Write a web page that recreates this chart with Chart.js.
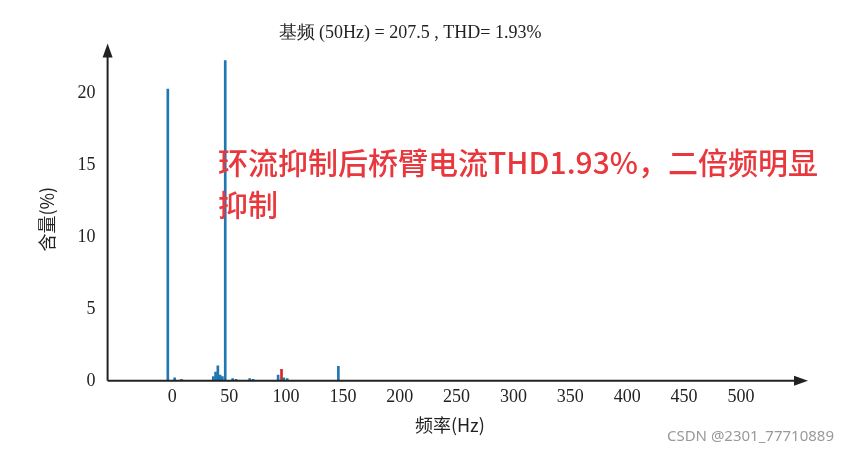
<!DOCTYPE html>
<html>
<head>
<meta charset="utf-8">
<script src="https://cdn.jsdelivr.net/npm/chart.js@4.4.0/dist/chart.umd.min.js"></script>
<style>
  body { margin: 0; background: #fff; }
  #wrap { position: relative; width: 842px; height: 451px; }
  .note { position: absolute; left: 218px; top: 140px; color: #e8383d; font: 500 30px "Noto Sans CJK SC", sans-serif; line-height: 42px; }
  .mark { position: absolute; right: 8px; bottom: 6px; color: #999; font: 15px "Noto Sans", sans-serif; }
</style>
</head>
<body>
<div id="wrap">
  <canvas id="c" width="842" height="451"></canvas>
  <div class="note">环流抑制后桥臂电流THD1.93%，二倍频明显<br>抑制</div>
  <div class="mark">CSDN @2301_77710889</div>
</div>
<script>
// harmonic frequency (Hz) and content (%)
const freqs = [-4, 2, 8, 36, 38, 40, 42, 44, 46.5, 53, 56, 68, 71, 93, 96, 98, 101, 146];
const values = [20.3, 0.2, 0.1, 0.3, 0.6, 1.05, 0.4, 0.3, 22.3, 0.15, 0.1, 0.15, 0.1, 0.4, 0.8, 0.2, 0.15, 1.0];
const xTicks = [0, 50, 100, 150, 200, 250, 300, 350, 400, 450, 500];
const yTicks = [0, 5, 10, 15, 20];

const colors = freqs.map(f => f === 96 ? '#d62728' : '#1f77b4');

const arrowAxes = {
    id: 'arrowAxes',
    afterDraw(chart) {
        const { ctx, chartArea: a } = chart;
        ctx.save();
        ctx.strokeStyle = '#222';
        ctx.fillStyle = '#222';
        ctx.lineWidth = 2;
        ctx.beginPath();
        ctx.moveTo(a.left, a.bottom);
        ctx.lineTo(a.right + 8, a.bottom);
        ctx.moveTo(a.left, a.bottom);
        ctx.lineTo(a.left, a.top - 6);
        ctx.stroke();
        ctx.beginPath();
        ctx.moveTo(a.right + 16, a.bottom);
        ctx.lineTo(a.right + 2, a.bottom - 5);
        ctx.lineTo(a.right + 2, a.bottom + 5);
        ctx.fill();
        ctx.beginPath();
        ctx.moveTo(a.left, a.top - 14);
        ctx.lineTo(a.left - 5, a.top);
        ctx.lineTo(a.left + 5, a.top);
        ctx.fill();
        ctx.restore();
    }
};

new Chart(document.getElementById('c').getContext('2d'), {
    type: 'bar',
    data: {
        datasets: [{
            data: freqs.map((f, i) => ({ x: f, y: values[i] })),
            backgroundColor: colors,
            barThickness: 2,
        }],
    },
    options: {
        responsive: false,
        animation: false,
        layout: { padding: { left: 28, right: 50, top: 2, bottom: 15 } },
        scales: {
            x: {
                type: 'linear',
                min: -29.6,
                max: 517.6,
                grid: { display: false, drawTicks: false },
                border: { display: false },
                afterBuildTicks: s => { s.ticks = xTicks.map(v => ({ value: v })); },
                ticks: { color: '#222', font: { family: 'Liberation Serif', size: 18 }, padding: 6 },
                title: { display: true, text: '频率(Hz)', color: '#222', font: { family: 'Noto Sans CJK SC', size: 18 }, padding: 0 },
            },
            y: {
                min: 0,
                max: 22.5,
                grid: { display: false, drawTicks: false },
                border: { display: false },
                afterBuildTicks: s => { s.ticks = yTicks.map(v => ({ value: v })); },
                ticks: { color: '#222', font: { family: 'Liberation Serif', size: 18 }, padding: 12 },
                title: { display: true, text: '含量(%)', color: '#222', font: { family: 'Noto Sans CJK SC', size: 18 }, padding: 8 },
            },
        },
        plugins: {
            legend: { display: false },
            tooltip: { enabled: false },
            title: {
                display: true,
                text: '基频 (50Hz) = 207.5 , THD= 1.93%',
                color: '#222',
                font: { family: 'Liberation Serif', size: 18, weight: 'normal' },
                padding: { top: 20, bottom: 14 },
            },
        },
    },
    plugins: [arrowAxes],
});
</script>
</body>
</html>
